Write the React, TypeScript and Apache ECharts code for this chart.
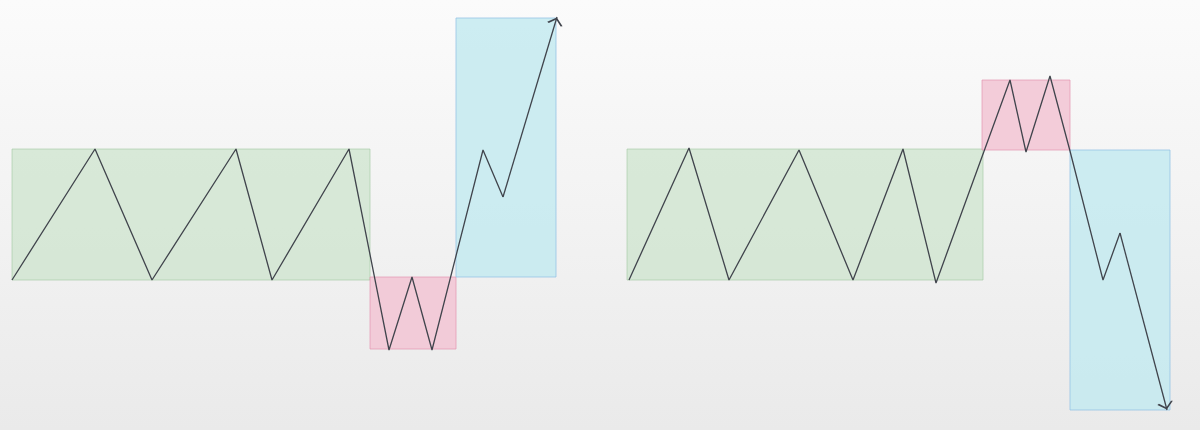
import * as echarts from "echarts"
import { useEffect, useRef } from "react"

// x = time (px-scale), y = price (0 at bottom, 430 at top)
const leftPath: [number, number][] = [
  [12, 150], [95, 281], [152, 150], [236, 281], [272, 150], [349, 281],
  [389, 80], [412, 153], [432, 80], [483, 280], [503, 233], [557, 413],
]
const rightPath: [number, number][] = [
  [629, 150], [689, 282], [729, 150], [799, 280], [853, 150], [903, 281],
  [936, 147], [1010, 350], [1026, 278], [1050, 354], [1070, 279],
  [1103, 150], [1120, 197], [1167, 20],
]

// boxes: [x0, y0, x1, y1]
const rangeBoxes: [number, number, number, number][] = [
  [12, 150, 370, 281],
  [627, 150, 983, 281],
]
const trapBoxes: [number, number, number, number][] = [
  [370, 81, 456, 153],
  [982, 280, 1070, 350],
]
const moveBoxes: [number, number, number, number][] = [
  [456, 153, 556, 412],
  [1070, 20, 1170, 280],
]

const LINE = "#40444c"
// open chevron, tip sitting at the symbol centre (the empty first subpath pads the box)
const ARROW = "path://M4,0 L4,0 Z M4,8 L8,14.4 L7.1,15 L4,10 L0.9,15 L0,14.4 Z"

const toArea = (b: [number, number, number, number]) => [
  { xAxis: b[0], yAxis: b[1] },
  { xAxis: b[2], yAxis: b[3] },
]

export default function App() {
  const ref = useRef<HTMLDivElement>(null)

  useEffect(() => {
    if (!ref.current) return
    const chart = echarts.init(ref.current, null, { renderer: "svg" })

    const boxSeries = (name: string, boxes: typeof rangeBoxes, fill: string, border: string) => ({
      name,
      type: "line",
      data: [],
      markArea: {
        silent: true,
        itemStyle: { color: fill, borderColor: border, borderWidth: 1 },
        data: boxes.map(toArea),
      },
    })

    // zigzag up to the last turn, then the final leg as a `lines` segment carrying the arrowhead
    const pathSeries = (path: [number, number][]) => [
      {
        type: "line",
        data: path.slice(0, -1),
        symbol: "none",
        lineStyle: { color: LINE, width: 1.3 },
        z: 5,
      },
      {
        type: "lines",
        coordinateSystem: "cartesian2d",
        symbol: ["none", ARROW],
        symbolSize: [8, 16],
        lineStyle: { color: LINE, width: 1.3, opacity: 1 },
        data: [{ coords: path.slice(-2) }],
        z: 5,
      },
    ]

    chart.setOption({
      animation: false,
      backgroundColor: {
        type: "linear",
        x: 0, y: 0, x2: 0, y2: 1,
        colorStops: [
          { offset: 0, color: "#fbfbfb" },
          { offset: 1, color: "#eaeaea" },
        ],
      },
      grid: { left: 0, right: 0, top: 0, bottom: 0 },
      xAxis: { type: "value", min: 0, max: 1200, show: false },
      yAxis: { type: "value", min: 0, max: 430, show: false },
      series: [
        boxSeries("range", rangeBoxes, "rgba(200,226,200,0.65)", "rgba(160,200,160,0.6)"),
        boxSeries("trap", trapBoxes, "rgba(242,196,212,0.85)", "rgba(228,150,178,0.7)"),
        boxSeries("move", moveBoxes, "rgba(196,234,240,0.85)", "rgba(150,196,230,0.8)"),
        ...pathSeries(leftPath),
        ...pathSeries(rightPath),
      ],
    })

    return () => chart.dispose()
  }, [])

  return (
    <div
      ref={ref}
      style={{
        position: "fixed",
        left: 0,
        top: 0,
        width: 1200,
        height: 430,
        boxShadow: "inset 2px 0 0 #e2e2e2",
      }}
    />
  )
}
